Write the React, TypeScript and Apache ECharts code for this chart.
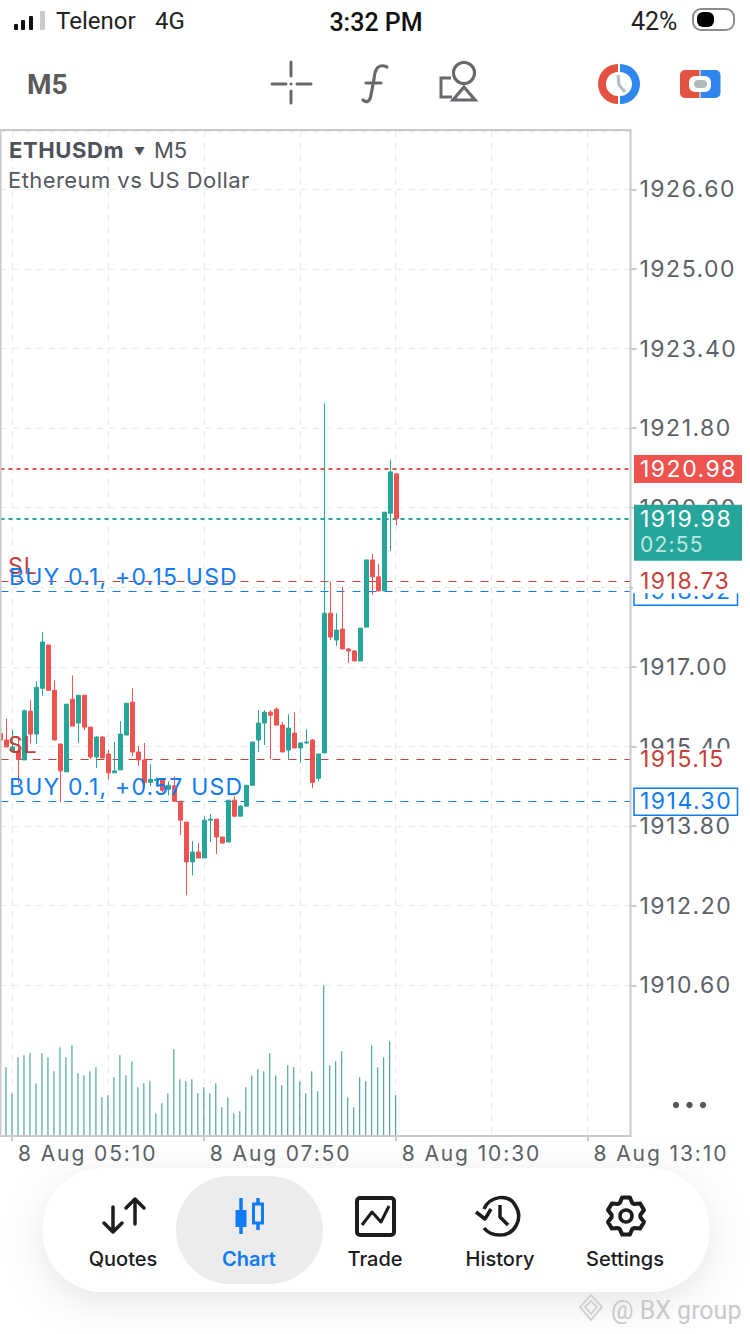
import React, { useEffect, useRef } from "react";
import * as echarts from "echarts";

const opens = [1915.66,1915.53,1915.31,1915.31,1915.13,1916.11,1915.65,1916.57,1917.44,1916.53,1915.45,1914.89,1916.35,1915.87,1916.43,1915.79,1915.19,1915.59,1915.25,1914.87,1914.93,1915.63,1916.29,1915.29,1915.13,1914.68,1914.72,1914.74,1914.54,1914.61,1914.30,1913.88,1913.08,1913.28,1913.16,1913.92,1913.94,1913.58,1913.48,1914.32,1914.00,1914.20,1914.62,1915.53,1915.87,1916.09,1916.15,1915.83,1915.33,1915.67,1915.37,1915.47,1915.53,1914.76,1915.27,1918.08,1917.54,1917.76,1917.36,1917.32,1917.12,1917.80,1919.15,1918.81,1918.53,1920.09,1920.88];
const closes = [1915.53,1915.39,1915.39,1915.14,1916.12,1915.65,1916.59,1917.50,1916.53,1915.53,1914.91,1916.25,1915.81,1916.43,1915.79,1915.19,1915.59,1915.17,1914.87,1914.91,1915.65,1916.27,1915.29,1915.13,1914.68,1914.74,1914.74,1914.52,1914.62,1914.30,1913.92,1913.08,1913.28,1913.16,1913.92,1913.94,1913.58,1913.46,1914.32,1914.00,1914.20,1914.62,1915.49,1915.87,1916.09,1916.03,1915.83,1915.29,1915.77,1915.37,1915.47,1915.49,1914.68,1915.25,1918.08,1917.60,1917.74,1917.36,1917.32,1917.12,1917.78,1919.15,1918.81,1918.53,1920.11,1920.92,1919.98];
const lows = [1915.53,1915.39,1915.29,1914.66,1915.13,1915.46,1915.45,1916.41,1916.53,1915.53,1914.28,1914.89,1915.81,1915.47,1915.73,1915.15,1914.97,1915.17,1914.74,1914.87,1914.93,1915.63,1915.21,1915.01,1914.60,1914.60,1914.62,1914.48,1914.42,1914.30,1913.62,1912.41,1912.81,1913.16,1913.16,1913.48,1913.24,1913.44,1913.48,1913.98,1914.00,1914.20,1914.62,1915.29,1915.43,1915.15,1915.83,1915.29,1915.13,1915.37,1915.07,1915.45,1914.56,1914.70,1915.27,1917.54,1917.42,1917.36,1917.08,1917.12,1917.12,1917.80,1918.45,1918.51,1918.53,1919.33,1919.85];
const highs = [1915.66,1915.96,1915.74,1915.60,1916.14,1916.33,1916.71,1917.70,1917.44,1916.73,1915.45,1916.25,1916.83,1916.43,1916.43,1915.79,1915.61,1915.61,1915.33,1915.49,1915.91,1916.27,1916.57,1915.41,1915.47,1915.05,1914.78,1914.74,1914.70,1914.80,1914.30,1913.88,1913.50,1913.46,1914.00,1914.04,1913.94,1913.58,1914.32,1914.40,1914.22,1914.62,1915.49,1916.13,1916.13,1916.13,1916.19,1915.89,1916.05,1916.09,1915.49,1915.75,1915.55,1915.25,1922.30,1918.72,1918.08,1918.61,1917.38,1917.34,1917.78,1919.15,1919.27,1919.07,1920.11,1921.16,1920.88];
const volumes = [30,34,21,39,40,41,26,41,39,32,44,39,45,31,30,32,34,19,20,29,40,30,37,24,26,27,11,16,21,43,28,27,28,21,24,21,26,14,19,11,12,24,30,33,32,41,30,25,35,34,27,21,32,22,75,35,37,42,19,14,29,27,45,34,39,47,20];

const priceTicksInterval = 1.6;
const priceMin = 1910.6;
const priceMax = 1927.772;

const askPrice = 1920.98;
const bidPrice = 1919.98;
const slPriceUpper = 1918.73;
const buyPriceUpper = 1918.52;
const slPriceLower = 1915.15;
const buyPriceLower = 1914.3;

const symbolName = "ETHUSDm";
const timeframe = "M5";
const symbolTitle = "Ethereum vs US Dollar";
const countdown = "02:55";
const buyLabelUpper = "BUY 0.1, +0.15 USD";
const buyLabelLower = "BUY 0.1, +0.57 USD";
const slLabel = "SL";
const navLabels = ["Quotes", "Chart", "Trade", "History", "Settings"];

const SLOT_COUNT = 106;
const START_MINUTES = 5 * 60;
const categories: string[] = [];
for (let i = 0; i < SLOT_COUNT; i++) {
  const m = START_MINUTES + i * 5;
  const hh = String(Math.floor(m / 60)).padStart(2, "0");
  const mm = String(m % 60).padStart(2, "0");
  categories.push(`8 Aug ${hh}:${mm}`);
}

const candleData = opens.map((o, i) => [o, closes[i], lows[i], highs[i]]);

const UP = "#26a69a";
const DOWN = "#ef5350";
const SL_RED = "#c8403a";
const BLUE = "#0f7bf5";
const GRID = "#e4ebf0";
const AXIS_TEXT = "#5c6067";
const FRAME = "#c9c9c9";
const UI_FONT = "Inter";

function gearPath(cx: number, cy: number) {
  const teeth = 6;
  const outer = 19;
  const inner = 14.5;
  const pts: string[] = [];
  for (let t = 0; t < teeth; t++) {
    const a = (t * Math.PI * 2) / teeth - Math.PI / 2;
    const offs = [
      [-0.44, inner],
      [-0.2, outer],
      [0.2, outer],
      [0.44, inner],
    ];
    offs.forEach(([d, r]) => {
      pts.push(`${(cx + Math.cos(a + d) * r).toFixed(1)} ${(cy + Math.sin(a + d) * r).toFixed(1)}`);
    });
  }
  return "M" + pts.join(" L") + " Z";
}

echarts.graphic.registerShape("iconF", echarts.graphic.extendPath("M387 67 C378 63 375 69 374 79 L371 95 C370 102 366 103 363 100 M366 83 L381 83", {}));
echarts.graphic.registerShape("iconHistory", echarts.graphic.extendPath("M484 1209 C490 1196 508 1193 515 1205 C524 1218 515 1235 500 1235 C492 1235 487 1232 484 1228 M476 1212 L485 1219 L491 1209 M500 1205 L500 1217 L508 1225", {}));
echarts.graphic.registerShape("iconGear", echarts.graphic.extendPath(gearPath(626, 1216), {}));
echarts.graphic.registerShape("iconArrows", echarts.graphic.extendPath("M113 1207 L113 1232 M104 1223 L113 1232 L122 1223 M135 1224 L135 1199 M126 1208 L135 1199 L144 1208", {}));
echarts.graphic.registerShape("iconTradeLine", echarts.graphic.extendPath("M362 1225 L372 1212 L381 1222 L389 1206", {}));
echarts.graphic.registerShape("iconDiamond", echarts.graphic.extendPath("M591 1295 L602 1307 L591 1320 L580 1307 Z M591 1301 L597 1307 L591 1314 L585 1307 Z", {}));

function spacingFor(text: string): number {
  if (/^\d{4}\.\d{2}$/.test(text)) return 1.5;
  if (/^8 Aug/.test(text)) return 1.9;
  if (/^BUY/.test(text)) return 1.2;
  if (text === slLabel) return 1;
  if (text === countdown) return 1.2;
  if (text === symbolName) return 0.6;
  if (text === symbolTitle) return 0.43;
  return 0;
}

function App() {
  const ref = useRef<HTMLDivElement>(null);

  useEffect(() => {
    const chart = echarts.init(ref.current!, null, { renderer: "svg", width: 750, height: 1334 });
    const line = (value: number, color: string, dash: number[], width: number) => ({
      yAxis: value,
      lineStyle: { color, type: dash, width },
    });
    chart.setOption({
      animation: false,
      backgroundColor: "#ffffff",
      grid: [
        { left: 0.5, width: 630, top: 131, height: 854.3, containLabel: false },
        { left: -0.5, width: 630, top: 131, height: 1004.3, containLabel: false },
      ],
      xAxis: [
        {
          type: "category",
          gridIndex: 0,
          data: categories,
          boundaryGap: false,
          show: false,
        },
        {
          type: "category",
          gridIndex: 1,
          data: categories,
          boundaryGap: false,
          axisLine: { show: false },
          axisTick: {
            show: true,
            length: 6,
            interval: (i: number) => i % 32 === 2,
            lineStyle: { color: FRAME, width: 2 },
          },
          axisLabel: {
            show: true,
            interval: (i: number) => i % 32 === 2,
            align: "left",
            margin: 8,
            padding: [0, 0, 0, 6],
            fontFamily: UI_FONT,
            fontSize: 21,
            color: AXIS_TEXT,
            hideOverlap: false,
          },
          splitLine: {
            show: true,
            interval: (i: number) => i % 16 === 2,
            lineStyle: { color: GRID, type: [6, 6], width: 1 },
          },
        },
      ],
      yAxis: [
        {
          type: "value",
          gridIndex: 0,
          position: "right",
          min: priceMin,
          max: priceMax,
          interval: priceTicksInterval,
          axisLine: { show: false },
          axisTick: { show: true, length: 6, lineStyle: { color: FRAME, width: 2 } },
          axisLabel: {
            margin: 9,
            fontFamily: UI_FONT,
            fontSize: 23,
            color: AXIS_TEXT,
            showMaxLabel: false,
            formatter: (v: number) => v.toFixed(2),
          },
          splitLine: { show: true, lineStyle: { color: GRID, type: [6, 6], width: 1 } },
        },
        {
          type: "value",
          gridIndex: 1,
          min: 0,
          max: 502,
          show: false,
          splitLine: { show: false },
        },
      ],
      series: [
        {
          type: "bar",
          xAxisIndex: 1,
          yAxisIndex: 1,
          data: volumes,
          barWidth: 1,
          itemStyle: { color: "#2a9583" },
          silent: true,
        },
        {
          type: "candlestick",
          xAxisIndex: 0,
          yAxisIndex: 0,
          data: candleData,
          barWidth: 4,
          itemStyle: {
            color: UP,
            color0: DOWN,
            borderColor: UP,
            borderColor0: DOWN,
            borderWidth: 1,
          },
          silent: true,
          z: 3,
          markLine: {
            silent: true,
            symbol: "none",
            z: 1,
            label: { show: false },
            data: [
              line(askPrice, DOWN, [4, 4], 2),
              line(bidPrice, UP, [4, 4], 2),
              line(slPriceUpper, SL_RED, [8, 8], 1),
              line(buyPriceUpper, BLUE, [8, 8], 1),
              line(slPriceLower, SL_RED, [8, 8], 1),
              line(buyPriceLower, BLUE, [8, 8], 1),
            ],
          },
        },
      ],
    });

    const py = (v: number) => chart.convertToPixel({ yAxisIndex: 0 }, v) as number;
    const TAG_X = 634;
    const TAG_W = 108;
    const TEXT_X = 640;
    const Z = 100;
    const txt = (text: string, x: number, y: number, fontSize: number, fill: string, extra: any = {}) => ({
      type: "text",
      z: extra.z ?? Z,
      style: {
        text,
        x,
        y,
        fontSize,
        fill,
        fontFamily: extra.fontFamily ?? UI_FONT,
        fontWeight: extra.fontWeight ?? "normal",
        align: extra.align ?? "left",
        verticalAlign: "middle",
        opacity: extra.opacity ?? 1,
      },
    });
    const rect = (x: number, y: number, width: number, height: number, style: any, r: number | number[] = 0, z = Z) => ({
      type: "rect",
      z,
      shape: { x, y, width, height, r },
      style,
    });

    const gray = "#666a6e";
    const dark = "#1c1c1e";
    const els: any[] = [
      // chart frame
      rect(0.5, 130, 630, 1006, { fill: "none", stroke: FRAME, lineWidth: 2 }, 0, 50),

      // legend
      txt(symbolName, 9, 150, 22, "#4f5359", { fontWeight: 700, z: 60 }),
      txt("▼", 134, 151, 11, "#4f5359", { z: 60 }),
      txt(timeframe, 154, 150, 22, "#4f5359", { z: 60 }),
      txt(symbolTitle, 8, 180, 22, "#55595f", { z: 60 }),

      // chart-trade labels
      txt(slLabel, 8, py(slPriceUpper) - 15, 23, SL_RED, { z: 60 }),
      txt(buyLabelUpper, 9, py(buyPriceUpper) - 14, 23, BLUE, { z: 60 }),
      txt(slLabel, 8, py(slPriceLower) - 14, 23, SL_RED, { z: 60 }),
      txt(buyLabelLower, 9, py(buyPriceLower) - 14, 23, BLUE, { z: 60 }),

      // price tags
      rect(TAG_X, py(askPrice) - 14, TAG_W, 28, { fill: DOWN }),
      txt(askPrice.toFixed(2), TEXT_X, py(askPrice), 23, "#ffffff", { z: Z + 1 }),
      rect(TAG_X, py(bidPrice) - 14, TAG_W, 56, { fill: UP }),
      txt(bidPrice.toFixed(2), TEXT_X, py(bidPrice), 23, "#ffffff", { z: Z + 1 }),
      txt(countdown, TEXT_X, py(bidPrice) + 26, 21, "#bfe5e0", { z: Z + 1 }),

      rect(TAG_X, py(buyPriceUpper) - 14, 103.5, 28, { fill: "#ffffff", stroke: BLUE, lineWidth: 1.5 }),
      txt(buyPriceUpper.toFixed(2), TEXT_X, py(buyPriceUpper), 23, BLUE, { z: Z + 1 }),
      rect(TAG_X - 1, py(slPriceUpper) - 14, TAG_W + 1, 26.5, { fill: "#ffffff" }, 0, Z + 2),
      txt(slPriceUpper.toFixed(2), TEXT_X, py(slPriceUpper), 23, SL_RED, { z: Z + 3 }),

      rect(TAG_X, py(slPriceLower) - 10.5, TAG_W, 21, { fill: "#ffffff" }),
      txt(slPriceLower.toFixed(2), TEXT_X, py(slPriceLower), 23, SL_RED, { z: Z + 1 }),

      rect(TAG_X, py(buyPriceLower) - 13, 103.5, 27, { fill: "#ffffff", stroke: BLUE, lineWidth: 1.5 }),
      txt(buyPriceLower.toFixed(2), TEXT_X, py(buyPriceLower), 23, BLUE, { z: Z + 1 }),

      // more dots
      { type: "circle", z: Z, shape: { cx: 676, cy: 1105, r: 3.2 }, style: { fill: "#54585d" } },
      { type: "circle", z: Z, shape: { cx: 689.5, cy: 1105, r: 3.2 }, style: { fill: "#54585d" } },
      { type: "circle", z: Z, shape: { cx: 703, cy: 1105, r: 3.2 }, style: { fill: "#54585d" } },

      // status bar
      rect(14, 24, 4, 6, { fill: "#111" }, 1),
      rect(21, 20, 4, 10, { fill: "#111" }, 1),
      rect(29, 16, 4, 14, { fill: "#111" }, 1),
      rect(40, 11, 5, 19, { fill: "#c9c9c9" }, 1),
      txt("Telenor", 56, 21, 24, "#222", { fontFamily: "Roboto" }),
      txt("4G", 155, 21, 24, "#222", { fontFamily: "Roboto" }),
      txt("3:32 PM", 376, 22, 25, "#111", { fontFamily: "Roboto", fontWeight: 500, align: "center" }),
      txt("42%", 631, 21, 25, "#222", { fontFamily: "Roboto" }),
      rect(693, 9, 41, 21, { fill: "none", stroke: "#8c8c8c", lineWidth: 2 }, 8),
      rect(697, 12, 17, 15, { fill: "#000" }, 6),

      // top nav
      txt(timeframe, 27, 84, 28, "#5a5a5a", { fontFamily: "Roboto", fontWeight: 700 }),
      { type: "line", z: Z, shape: { x1: 272, y1: 84, x2: 286, y2: 84 }, style: { stroke: gray, lineWidth: 3, lineCap: "round" } },
      { type: "line", z: Z, shape: { x1: 297, y1: 84, x2: 311, y2: 84 }, style: { stroke: gray, lineWidth: 3, lineCap: "round" } },
      { type: "line", z: Z, shape: { x1: 291, y1: 62, x2: 291, y2: 76 }, style: { stroke: gray, lineWidth: 3, lineCap: "round" } },
      { type: "line", z: Z, shape: { x1: 291, y1: 91, x2: 291, y2: 103 }, style: { stroke: gray, lineWidth: 3, lineCap: "round" } },
      { type: "circle", z: Z, shape: { cx: 291, cy: 84, r: 1.5 }, style: { fill: gray } },
      { type: "iconF", z: Z, style: { fill: "none", stroke: gray, lineWidth: 3.2, lineCap: "round" } },
      { type: "polyline", z: Z, shape: { points: [[451, 78], [441, 78], [441, 97], [452, 97]] }, style: { fill: "none", stroke: gray, lineWidth: 3 } },
      { type: "circle", z: Z, shape: { cx: 464, cy: 73, r: 10.5 }, style: { fill: "none", stroke: gray, lineWidth: 3.2 } },
      { type: "polygon", z: Z + 1, shape: { points: [[464, 87], [475, 100], [453, 100]] }, style: { fill: "#ffffff", stroke: gray, lineWidth: 3.2 } },

      { type: "sector", z: Z, shape: { cx: 618, cy: 84, r0: 12, r: 20, startAngle: Math.PI / 2, endAngle: (Math.PI * 3) / 2, clockwise: true }, style: { fill: "#e25240" } },
      { type: "sector", z: Z, shape: { cx: 620, cy: 84, r0: 12, r: 20, startAngle: -Math.PI / 2, endAngle: Math.PI / 2, clockwise: true }, style: { fill: "#2f86ee" } },
      { type: "polyline", z: Z, shape: { points: [[618, 75], [619, 85], [625, 92]] }, style: { fill: "none", stroke: "#b5bdc0", lineWidth: 3 } },
      rect(680, 70, 19.5, 28, { fill: "#e25240" }, [5, 0, 0, 5]),
      rect(700.5, 70, 20, 28, { fill: "#2f86ee" }, [0, 5, 5, 0]),
      rect(689, 76, 22, 16, { fill: "#ffffff" }, 6, Z + 1),
      rect(694, 80, 13, 8, { fill: "#aebcbc" }, 4, Z + 2),

      // bottom nav
      rect(43, 1168, 666, 124, { fill: "#ffffff", shadowBlur: 40, shadowColor: "rgba(0,0,0,0.10)", shadowOffsetY: 10 }, 60, Z),
      rect(176, 1176, 147, 108, { fill: "#ececec" }, 54, Z + 1),

      { type: "iconArrows", z: Z + 2, style: { fill: "none", stroke: dark, lineWidth: 3.5, lineCap: "round", lineJoin: "round" } },

      { type: "line", z: Z + 2, shape: { x1: 241, y1: 1198, x2: 241, y2: 1234 }, style: { stroke: BLUE, lineWidth: 3.5 } },
      rect(235.5, 1210, 11, 17, { fill: BLUE }, 0, Z + 2),
      { type: "line", z: Z + 2, shape: { x1: 258, y1: 1198, x2: 258, y2: 1230 }, style: { stroke: BLUE, lineWidth: 3.5 } },
      rect(253.5, 1204, 9, 19, { fill: "#ececec", stroke: BLUE, lineWidth: 3 }, 0, Z + 2),

      rect(357, 1198, 37, 37, { fill: "none", stroke: dark, lineWidth: 4 }, 3, Z + 2),
      { type: "iconTradeLine", z: Z + 2, style: { fill: "none", stroke: dark, lineWidth: 3, lineJoin: "round" } },

      { type: "iconHistory", z: Z + 2, style: { fill: "none", stroke: dark, lineWidth: 3.5, lineJoin: "round" } },

      { type: "iconGear", z: Z + 2, style: { fill: "none", stroke: dark, lineWidth: 4, lineJoin: "round" } },
      { type: "circle", z: Z + 2, shape: { cx: 626, cy: 1216, r: 6 }, style: { fill: "none", stroke: dark, lineWidth: 3.5 } },

      txt(navLabels[0], 123, 1258.5, 20, dark, { align: "center", z: Z + 2, fontWeight: 500 }),
      txt(navLabels[1], 249, 1258.5, 20, BLUE, { align: "center", z: Z + 2, fontWeight: 600 }),
      txt(navLabels[2], 375, 1258.5, 20, dark, { align: "center", z: Z + 2, fontWeight: 500 }),
      txt(navLabels[3], 500, 1258.5, 20, dark, { align: "center", z: Z + 2, fontWeight: 500 }),
      txt(navLabels[4], 625, 1258.5, 20, dark, { align: "center", z: Z + 2, fontWeight: 500 }),

      // watermark
      { type: "iconDiamond", z: Z + 3, style: { fill: "none", stroke: "#d2d2d2", lineWidth: 2 } },
      txt("@ BX group", 611, 1310, 25, "#c9c9c9", { z: Z + 3, fontFamily: "Roboto" }),
    ];
    chart.setOption({ graphic: els });

    ref.current!.querySelectorAll("text").forEach((node) => {
      const s = spacingFor((node.textContent || "").trim());
      if (s) (node as SVGTextElement).style.letterSpacing = `${s}px`;
    });

    return () => chart.dispose();
  }, []);

  return <div ref={ref} style={{ position: "absolute", left: 0, top: 0, width: 750, height: 1334 }} />;
}

export default App;
